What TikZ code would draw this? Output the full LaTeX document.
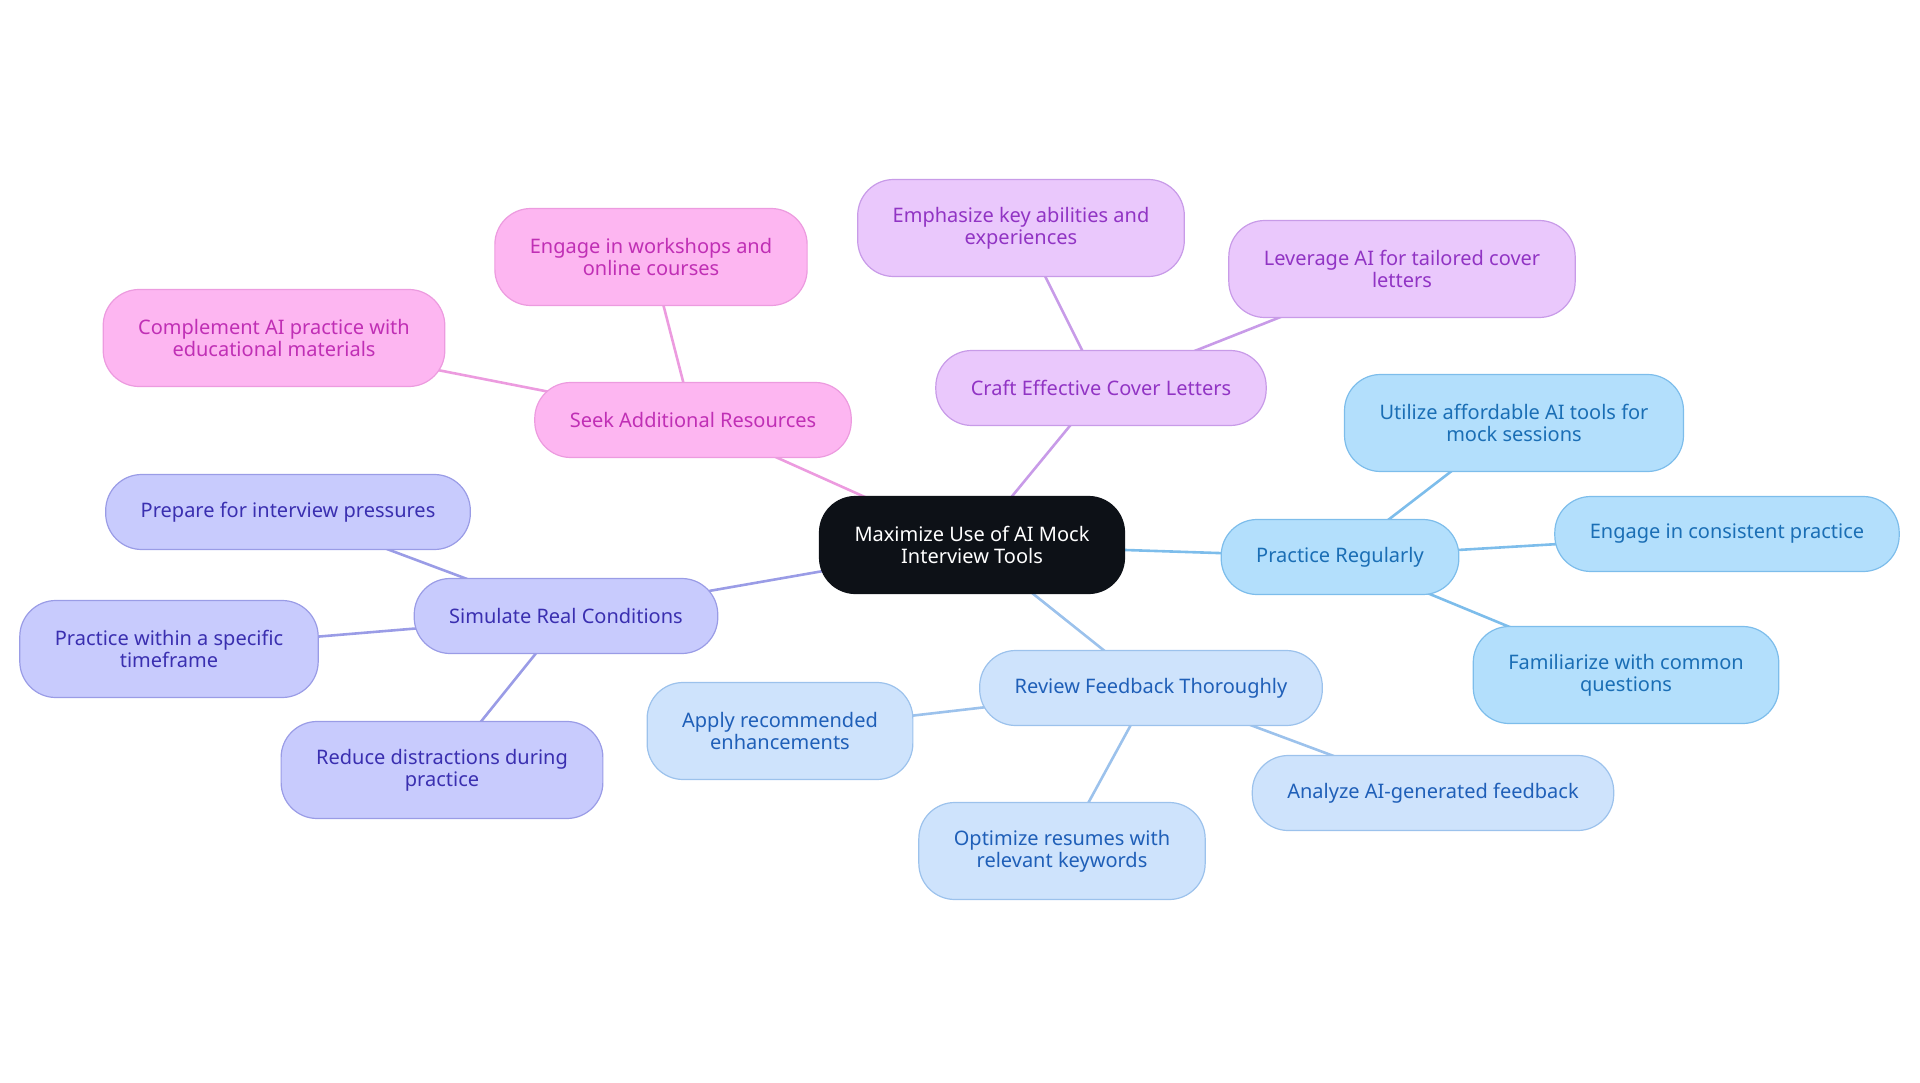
\documentclass[tikz,border=0pt]{standalone}
\usepackage{fontspec}
\setmainfont{Noto Sans}
\usetikzlibrary{backgrounds}

% Couleurs
\definecolor{fondracine}{HTML}{0D1117}
\definecolor{roseFond}{HTML}{FDB6F1}
\definecolor{roseTrait}{HTML}{EC9BDF}
\definecolor{roseTexte}{HTML}{C02FB5}
\definecolor{violetFond}{HTML}{EAC8FC}
\definecolor{violetTrait}{HTML}{C89BE8}
\definecolor{violetTexte}{HTML}{9134C4}
\definecolor{bleuFond}{HTML}{B3DFFC}
\definecolor{bleuTrait}{HTML}{7DBDEB}
\definecolor{bleuTexte}{HTML}{1A6EB5}
\definecolor{cielFond}{HTML}{CEE3FC}
\definecolor{cielTrait}{HTML}{9CC2EC}
\definecolor{cielTexte}{HTML}{1F5FB8}
\definecolor{lavandeFond}{HTML}{C8CBFD}
\definecolor{lavandeTrait}{HTML}{9A9CE6}
\definecolor{lavandeTexte}{HTML}{3A2FB0}

\tikzset{
    bulle/.style={rounded corners=36pt, draw, line width=1.2pt, align=center,
        minimum height=75pt, inner xsep=35pt, font=\fontsize{20}{22}\selectfont},
    deux/.style={minimum height=97pt},
    racine/.style={bulle, fill=fondracine, draw=fondracine, text=white},
    rose/.style={bulle, fill=roseFond, draw=roseTrait, text=roseTexte},
    violet/.style={bulle, fill=violetFond, draw=violetTrait, text=violetTexte},
    bleu/.style={bulle, fill=bleuFond, draw=bleuTrait, text=bleuTexte},
    ciel/.style={bulle, fill=cielFond, draw=cielTrait, text=cielTexte},
    lavande/.style={bulle, fill=lavandeFond, draw=lavandeTrait, text=lavandeTexte},
    lien/.style={line width=2.6pt}
}

\begin{document}
\begin{tikzpicture}[x=1pt, y=-1pt]
        \useasboundingbox (0, 0) rectangle (1920, 1083);

        % Noeud central
        \node[racine, deux] (racine) at (972, 545) {Maximize Use of AI Mock\\Interview Tools};

        % Branche rose
        \node[rose] (ressources) at (693, 420) {Seek Additional Resources};
        \node[rose, deux] (ateliers) at (651, 257) {Engage in workshops and\\online courses};
        \node[rose, deux] (complement) at (274, 338) {Complement AI practice with\\educational materials};

        % Branche violette
        \node[violet] (lettres) at (1101, 388) {Craft Effective Cover Letters};
        \node[violet, deux] (aptitudes) at (1021, 228) {Emphasize key abilities and\\experiences};
        \node[violet, deux] (levier) at (1402, 269) {Leverage AI for tailored cover\\letters};

        % Branche bleue
        \node[bleu] (pratique) at (1340, 557) {Practice Regularly};
        \node[bleu, deux] (outils) at (1514, 423) {Utilize affordable AI tools for\\mock sessions};
        \node[bleu] (constance) at (1727, 534) {Engage in consistent practice};
        \node[bleu, deux] (questions) at (1626, 675) {Familiarize with common\\questions};

        % Branche bleu ciel
        \node[ciel] (retours) at (1151, 688) {Review Feedback Thoroughly};
        \node[ciel, deux] (conseils) at (780, 731) {Apply recommended\\enhancements};
        \node[ciel] (analyse) at (1433, 793) {Analyze AI-generated feedback};
        \node[ciel, deux] (cv) at (1062, 851) {Optimize resumes with\\relevant keywords};

        % Branche lavande
        \node[lavande] (conditions) at (566, 616) {Simulate Real Conditions};
        \node[lavande] (pression) at (288, 512) {Prepare for interview pressures};
        \node[lavande, deux] (duree) at (169, 649) {Practice within a specific\\timeframe};
        \node[lavande, deux] (distractions) at (442, 770) {Reduce distractions during\\practice};

        % Liens (sous les bulles)
        \begin{scope}[on background layer]
            \draw[lien, roseTrait] (racine.center) -- (ressources.center);
            \draw[lien, roseTrait] (ressources.center) -- (ateliers.center);
            \draw[lien, roseTrait] (ressources.center) -- (complement.center);
            \draw[lien, violetTrait] (racine.center) -- (lettres.center);
            \draw[lien, violetTrait] (lettres.center) -- (aptitudes.center);
            \draw[lien, violetTrait] (lettres.center) -- (levier.center);
            \draw[lien, bleuTrait] (racine.center) -- (pratique.center);
            \draw[lien, bleuTrait] (pratique.center) -- (outils.center);
            \draw[lien, bleuTrait] (pratique.center) -- (constance.center);
            \draw[lien, bleuTrait] (pratique.center) -- (questions.center);
            \draw[lien, cielTrait] (racine.center) -- (retours.center);
            \draw[lien, cielTrait] (retours.center) -- (conseils.center);
            \draw[lien, cielTrait] (retours.center) -- (analyse.center);
            \draw[lien, cielTrait] (retours.center) -- (cv.center);
            \draw[lien, lavandeTrait] (racine.center) -- (conditions.center);
            \draw[lien, lavandeTrait] (conditions.center) -- (pression.center);
            \draw[lien, lavandeTrait] (conditions.center) -- (duree.center);
            \draw[lien, lavandeTrait] (conditions.center) -- (distractions.center);
        \end{scope}
\end{tikzpicture}
\end{document}
